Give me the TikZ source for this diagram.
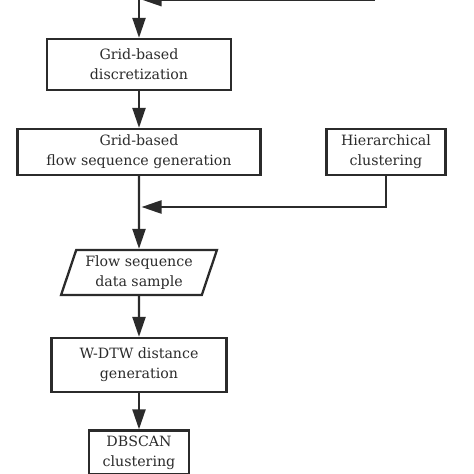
\documentclass[tikz,border=0pt]{standalone}
\usepackage{fontspec}
\setmainfont{DejaVu Serif}
\usepackage{tikz}
\usetikzlibrary{arrows.meta,shapes.geometric}

\definecolor{inkgray}{HTML}{2B2B2B}

\tikzset{
	stepbox/.style={draw=inkgray,line width=2.3pt,align=center,inner sep=0pt,
		text=inkgray,font=\fontsize{14.2}{20}\selectfont},
	databox/.style={stepbox,trapezium,trapezium left angle=69,trapezium right angle=111,
		trapezium stretches=true},
	flow/.style={draw=inkgray,line width=2.3pt,-{Triangle[length=20pt,width=13pt]}},
}

\begin{document}
\begin{tikzpicture}[x=1pt,y=-1pt]
		\useasboundingbox (0,0) rectangle (474,474);

		\node[stepbox,minimum width=184pt,minimum height=51pt] (disc) at (139,64.5) {Grid-based\\discretization};
		\node[stepbox,minimum width=243pt,minimum height=46pt] (flowgen) at (139,152) {Grid-based\\flow sequence generation};
		\node[stepbox,minimum width=119pt,minimum height=46pt] (hier) at (386,152) {Hierarchical\\clustering};
		\node[databox,minimum width=156pt,minimum height=45pt] (sample) at (139,272.5) {Flow sequence\\data sample};
		\node[stepbox,minimum width=175pt,minimum height=54pt] (wdtw) at (139,365) {W-DTW distance\\generation};
		\node[stepbox,minimum width=100pt,minimum height=44pt] (dbscan) at (139,452.5) {DBSCAN\\clustering};

		\coordinate (top) at (139,-20);
		\coordinate (back) at (375,-0.4);
		\coordinate (join) at (139,207);

		% main chain
		\draw[flow] (top) -- (disc);
		\draw[flow] (back) -- (back -| top) [shorten >=2.5pt];
		\draw[flow] (disc) -- (flowgen);
		\draw[flow] (flowgen) -- (sample);
		\draw[flow] (hier) |- (join) [shorten >=2.5pt];
		\draw[flow] (sample) -- (wdtw);
		\draw[flow] (wdtw) -- (dbscan);
	\end{tikzpicture}
\end{document}
